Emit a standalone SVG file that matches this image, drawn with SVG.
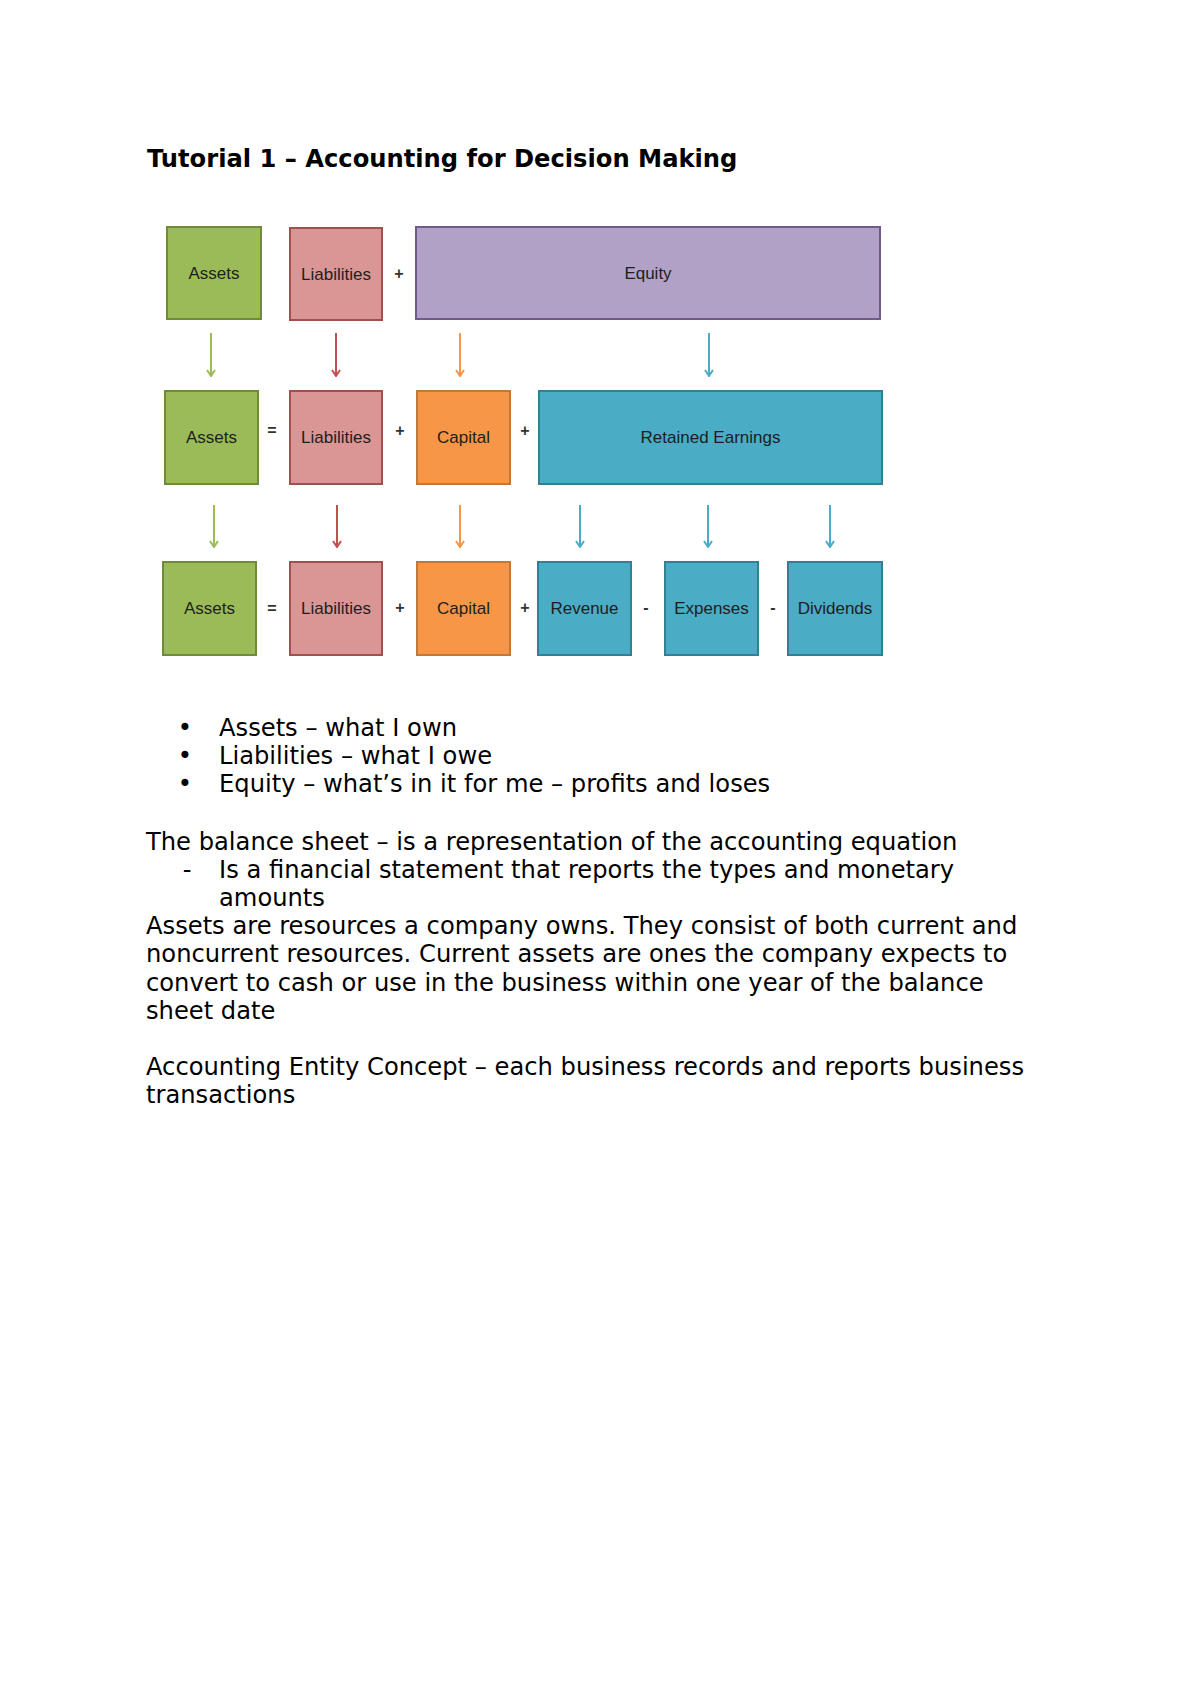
<svg xmlns="http://www.w3.org/2000/svg" width="1200" height="1696" viewBox="0 0 1200 1696">
<style>
  .title { font-family: "DejaVu Sans", sans-serif; font-weight: bold; font-size: 24.2px; fill: #000; }
  .body { font-family: "DejaVu Sans", sans-serif; font-size: 24.2px; fill: #000; }
  .lbl { font-family: "Liberation Sans", Arial, sans-serif; font-size: 17px; fill: #1e1e1e; text-anchor: middle; }
  .op { font-family: "Liberation Sans", Arial, sans-serif; font-size: 16px; font-weight: bold; fill: #333; text-anchor: middle; }
  .green { fill: #9BBB59; stroke: #71893F; stroke-width: 2; }
  .pink { fill: #D99694; stroke: #A0504D; stroke-width: 2; }
  .purple { fill: #B2A1C7; stroke: #6F5B8C; stroke-width: 2; }
  .orange { fill: #F79646; stroke: #C0793A; stroke-width: 2; }
  .teal { fill: #4BACC6; stroke: #357F92; stroke-width: 2; }
  .ag { stroke: #9BBB59; }
  .ar { stroke: #C0504D; }
  .ao { stroke: #F79646; }
  .at { stroke: #4BACC6; }
  .arrow { stroke-width: 2; fill: none; }
</style>
<defs>
  <marker id="mg" viewBox="0 0 10 10" refX="5" refY="9" markerWidth="10" markerHeight="10" markerUnits="userSpaceOnUse">
    <polyline points="1,3 5,9 9,3" fill="none" stroke="#9BBB59" stroke-width="2"/>
  </marker>
  <marker id="mr" viewBox="0 0 10 10" refX="5" refY="9" markerWidth="10" markerHeight="10" markerUnits="userSpaceOnUse">
    <polyline points="1,3 5,9 9,3" fill="none" stroke="#C0504D" stroke-width="2"/>
  </marker>
  <marker id="mo" viewBox="0 0 10 10" refX="5" refY="9" markerWidth="10" markerHeight="10" markerUnits="userSpaceOnUse">
    <polyline points="1,3 5,9 9,3" fill="none" stroke="#F79646" stroke-width="2"/>
  </marker>
  <marker id="mt" viewBox="0 0 10 10" refX="5" refY="9" markerWidth="10" markerHeight="10" markerUnits="userSpaceOnUse">
    <polyline points="1,3 5,9 9,3" fill="none" stroke="#4BACC6" stroke-width="2"/>
  </marker>
</defs>
<rect width="1200" height="1696" fill="#fff"/>

<text class="title" x="147" y="166.7">Tutorial 1 – Accounting for Decision Making</text>

<!-- Row 1 -->
<g id="assets1"><rect class="green" x="167" y="227" width="94" height="92"/><text class="lbl" x="214" y="279">Assets</text></g>
<g id="liabilities1"><rect class="pink" x="290" y="228" width="92" height="92"/><text class="lbl" x="336" y="280">Liabilities</text></g>
<text class="op" x="399" y="279">+</text>
<g id="equity"><rect class="purple" x="416" y="227" width="464" height="92"/><text class="lbl" x="648" y="279">Equity</text></g>

<!-- Row 2 -->
<g id="assets2"><rect class="green" x="165" y="391" width="93" height="93"/><text class="lbl" x="211.5" y="443">Assets</text></g>
<text class="op" x="272" y="436">=</text>
<g id="liabilities2"><rect class="pink" x="290" y="391" width="92" height="93"/><text class="lbl" x="336" y="443">Liabilities</text></g>
<text class="op" x="400" y="436">+</text>
<g id="capital2"><rect class="orange" x="417" y="391" width="93" height="93"/><text class="lbl" x="463.5" y="443">Capital</text></g>
<text class="op" x="525" y="436">+</text>
<g id="retained"><rect class="teal" x="539" y="391" width="343" height="93"/><text class="lbl" x="710.5" y="443">Retained Earnings</text></g>

<!-- Row 3 -->
<g id="assets3"><rect class="green" x="163" y="562" width="93" height="93"/><text class="lbl" x="209.5" y="614">Assets</text></g>
<text class="op" x="272" y="614">=</text>
<g id="liabilities3"><rect class="pink" x="290" y="562" width="92" height="93"/><text class="lbl" x="336" y="614">Liabilities</text></g>
<text class="op" x="400" y="613">+</text>
<g id="capital3"><rect class="orange" x="417" y="562" width="93" height="93"/><text class="lbl" x="463.5" y="614">Capital</text></g>
<text class="op" x="525" y="613">+</text>
<g id="revenue"><rect class="teal" x="538" y="562" width="93" height="93"/><text class="lbl" x="584.5" y="614">Revenue</text></g>
<text class="op" x="646" y="613">-</text>
<g id="expenses"><rect class="teal" x="665" y="562" width="93" height="93"/><text class="lbl" x="711.5" y="614">Expenses</text></g>
<text class="op" x="773" y="613">-</text>
<g id="dividends"><rect class="teal" x="788" y="562" width="94" height="93"/><text class="lbl" x="835" y="614">Dividends</text></g>

<!-- Connectors -->
<g id="connectors">
  <line class="arrow ag" x1="211" y1="333" x2="211" y2="376" marker-end="url(#mg)"/>
  <line class="arrow ar" x1="336" y1="333" x2="336" y2="376" marker-end="url(#mr)"/>
  <line class="arrow ao" x1="460" y1="333" x2="460" y2="376" marker-end="url(#mo)"/>
  <line class="arrow at" x1="709" y1="333" x2="709" y2="376" marker-end="url(#mt)"/>
  <line class="arrow ag" x1="214" y1="505" x2="214" y2="547" marker-end="url(#mg)"/>
  <line class="arrow ar" x1="337" y1="505" x2="337" y2="547" marker-end="url(#mr)"/>
  <line class="arrow ao" x1="460" y1="505" x2="460" y2="547" marker-end="url(#mo)"/>
  <line class="arrow at" x1="580" y1="505" x2="580" y2="547" marker-end="url(#mt)"/>
  <line class="arrow at" x1="708" y1="505" x2="708" y2="547" marker-end="url(#mt)"/>
  <line class="arrow at" x1="830" y1="505" x2="830" y2="547" marker-end="url(#mt)"/>
</g>

<!-- Body text -->
<g class="body">
  <text x="185" y="736" text-anchor="middle">•</text>
  <text x="219" y="736">Assets – what I own</text>
  <text x="185" y="764.2" text-anchor="middle">•</text>
  <text x="219" y="764.2">Liabilities – what I owe</text>
  <text x="185" y="792.4" text-anchor="middle">•</text>
  <text x="219" y="792.4">Equity – what’s in it for me – profits and loses</text>
  <text x="146" y="849.5">The balance sheet – is a representation of the accounting equation</text>
  <text x="187" y="877.7" text-anchor="middle">-</text>
  <text x="219" y="877.7">Is a financial statement that reports the types and monetary</text>
  <text x="219" y="905.9">amounts</text>
  <text x="146" y="934.1">Assets are resources a company owns. They consist of both current and</text>
  <text x="146" y="962.3">noncurrent resources. Current assets are ones the company expects to</text>
  <text x="146" y="990.5">convert to cash or use in the business within one year of the balance</text>
  <text x="146" y="1018.7">sheet date</text>
  <text x="146" y="1075.1">Accounting Entity Concept – each business records and reports business</text>
  <text x="146" y="1103.3">transactions</text>
</g>
</svg>
